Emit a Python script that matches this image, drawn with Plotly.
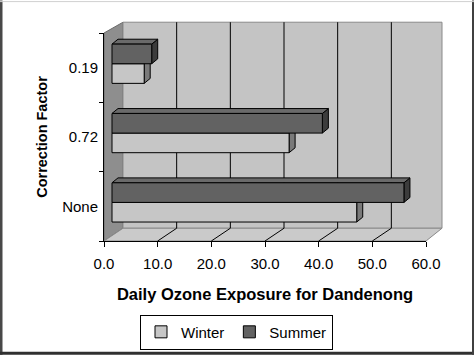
import plotly.graph_objects as go

# ---- data ----
categories = ["None", "0.72", "0.19"]
winter = [45.6, 33.0, 6.0]
summer = [54.4, 39.2, 7.4]
tick_values = [0, 10, 20, 30, 40, 50, 60]
tick_labels = ["0.0", "10.0", "20.0", "30.0", "40.0", "50.0", "60.0"]

# ---- layout geometry (pixels) ----
W, H = 474, 361
L, R, T, B = 104, 426, 33, 245
XMAX = 60
PXX = (R - L) / XMAX          # px per x unit
PXY = (B - T) / 3.0           # px per category
XOFF = -8 / PXX               # bars sit 8px behind the front plane
YOFF = 4 / PXY                # and 4px up
BW = 20 / PXY                 # bar thickness
DX = 6 / PXX                  # bar depth in x units
DY = 5 / PXY                  # bar depth in y units
GX = 19 / PXX                 # back-wall depth x


def px_x(p):
    return (p - L) / (R - L)


def px_y(p):
    return (B - p) / (B - T)


FONT = "Liberation Sans, Arial, sans-serif"
idx = list(range(len(categories)))

fig = go.Figure()
fig.add_trace(go.Bar(
    y=idx, x=winter, orientation="h", name="Winter",
    offset=YOFF - BW, width=BW,
    marker=dict(color="#c6c6c6", line=dict(color="black", width=1)),
))
fig.add_trace(go.Bar(
    y=idx, x=summer, orientation="h", name="Summer",
    offset=YOFF, width=BW,
    marker=dict(color="#626262", line=dict(color="black", width=1)),
))

shapes = []
# walls
shapes.append(dict(type="path", xref="paper", yref="paper", layer="below",
                   path=f"M {px_x(104)},{px_y(245)} L {px_x(104)},{px_y(33)} L {px_x(123)},{px_y(22)} L {px_x(123)},{px_y(232)} Z",
                   fillcolor="#8e8e8e", line=dict(color="#6a6a6a", width=1)))
shapes.append(dict(type="rect", xref="paper", yref="paper", layer="below",
                   x0=px_x(123), y0=px_y(232), x1=px_x(442), y1=px_y(22),
                   fillcolor="#c4c4c4", line=dict(color="#8a8a8a", width=1)))
shapes.append(dict(type="path", xref="paper", yref="paper", layer="below",
                   path=f"M {px_x(104)},{px_y(245)} L {px_x(123)},{px_y(232)} L {px_x(442)},{px_y(232)} L {px_x(426)},{px_y(245)} Z",
                   fillcolor="#cacaca", line=dict(color="#8a8a8a", width=1)))
# back-wall gridlines and floor lines
for t in tick_values[1:-1]:
    tv = t + XOFF
    shapes.append(dict(type="line", xref="x", yref="paper", layer="below",
                       x0=tv + GX, x1=tv + GX, y0=px_y(232), y1=px_y(22),
                       line=dict(color="black", width=1)))
    shapes.append(dict(type="line", xref="x", yref="paper", layer="below",
                       x0=tv, x1=tv + GX, y0=px_y(245), y1=px_y(232),
                       line=dict(color="black", width=1)))
# 3D faces of bars
for i in idx:
    for val, yb, yt, side, top in [
        (winter[i], i + YOFF - BW, i + YOFF, "#7a7a7a", None),
        (summer[i], i + YOFF, i + YOFF + BW, "#3c3c3c", "#6a6a6a"),
    ]:
        shapes.append(dict(type="path", xref="x", yref="y", layer="between",
                           path=f"M {val},{yb} L {val + DX},{yb + DY} L {val + DX},{yt + DY} L {val},{yt} Z",
                           fillcolor=side, line=dict(color="black", width=1)))
        if top:
            shapes.append(dict(type="path", xref="x", yref="y", layer="between",
                               path=f"M 0,{yt} L {DX},{yt + DY} L {val + DX},{yt + DY} L {val},{yt} Z",
                               fillcolor=top, line=dict(color="black", width=1)))
# outer frame
shapes.append(dict(type="line", xref="paper", yref="paper", x0=px_x(1), x1=px_x(1), y0=px_y(0), y1=px_y(361),
                   line=dict(color="#484848", width=3)))
shapes.append(dict(type="line", xref="paper", yref="paper", x0=px_x(0), x1=px_x(474), y0=px_y(359.5), y1=px_y(359.5),
                   line=dict(color="#303030", width=3)))
shapes.append(dict(type="line", xref="paper", yref="paper", x0=px_x(473), x1=px_x(473), y0=px_y(0), y1=px_y(361),
                   line=dict(color="#404040", width=2)))
shapes.append(dict(type="line", xref="paper", yref="paper", x0=px_x(0), x1=px_x(474), y0=px_y(1), y1=px_y(1),
                   line=dict(color="#d0d0d0", width=1)))

fig.update_layout(
    width=W, height=H, autosize=False,
    margin=dict(l=L, r=W - R, t=T, b=H - B, pad=0),
    paper_bgcolor="white", plot_bgcolor="rgba(0,0,0,0)",
    font=dict(family=FONT, size=15, color="black"),
    barmode="overlay",
    shapes=shapes,
    showlegend=True,
    legend=dict(orientation="h", x=px_x(236.5), xanchor="center", y=px_y(320), yanchor="top",
                bordercolor="black", borderwidth=1, bgcolor="white",
                font=dict(size=15), itemwidth=30, tracegroupgap=0),
    xaxis=dict(range=[XOFF, XMAX + XOFF], tickvals=[t + XOFF for t in tick_values], ticktext=tick_labels,
               showgrid=False, zeroline=False, showline=True, linecolor="black", linewidth=1,
               ticks="outside", ticklen=5, tickcolor="black", ticklabelstandoff=4,
               title=dict(text="<b>Daily Ozone Exposure for Dandenong</b>", standoff=17,
                          font=dict(family=FONT, size=16.5, color="black")),
               automargin=False),
    yaxis=dict(range=[-0.5, 2.5], tickvals=idx, ticktext=categories,
               showgrid=False, zeroline=False, showline=True, linecolor="black", linewidth=1,
               ticks="", ticklabelstandoff=2,
               minor=dict(tick0=-0.5, dtick=1, ticks="outside", ticklen=4, tickcolor="black", showgrid=False),
               title=dict(text="<b>Correction Factor</b>", standoff=11,
                          font=dict(family=FONT, size=14.5, color="black")),
               automargin=False),
)

fig.write_html("out.html", config={"displayModeBar": False},
               post_script="document.body.style.margin='0';document.body.style.overflow='hidden';")
